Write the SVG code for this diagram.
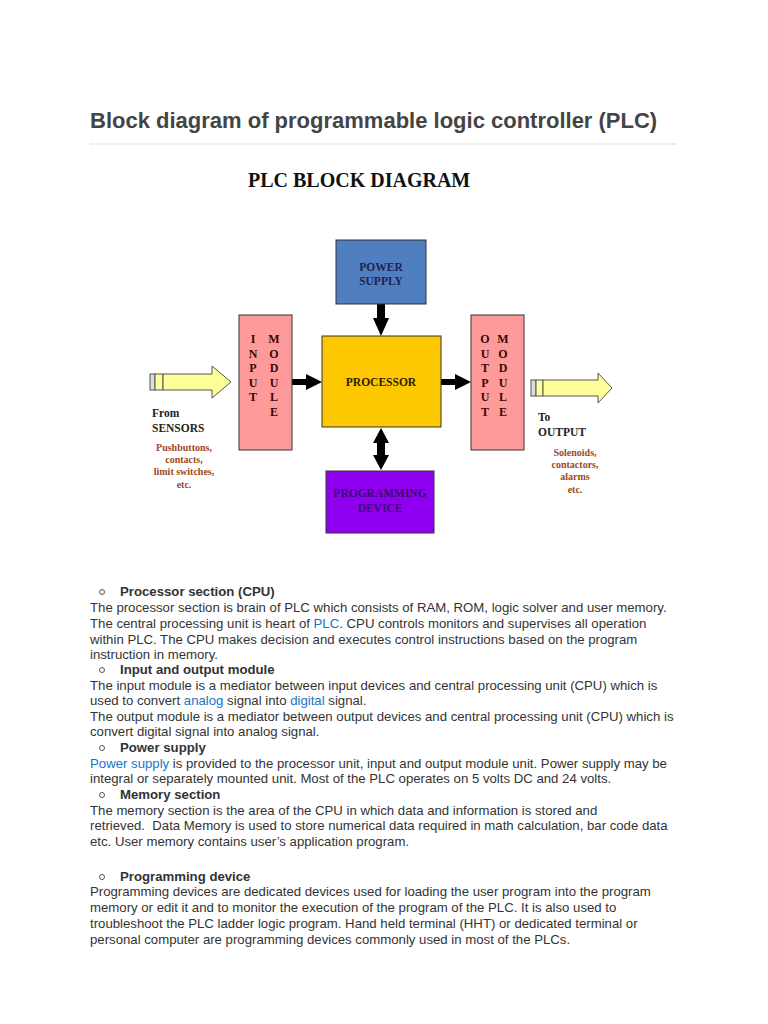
<svg xmlns="http://www.w3.org/2000/svg" width="768" height="1024" viewBox="0 0 768 1024">
<style>
.title{font-family:"Liberation Sans",Arial,sans-serif;font-weight:bold;font-size:22px;fill:#444}
.dtitle{font-family:"Liberation Serif","Times New Roman",serif;font-weight:bold;font-size:20px;fill:#111}
.lbl{font-family:"Liberation Serif","Times New Roman",serif;font-weight:bold;font-size:11.5px;text-anchor:middle}
.mod{font-family:"Liberation Serif","Times New Roman",serif;font-weight:bold;font-size:12px;fill:#3a0808;text-anchor:middle}
.side{font-family:"Liberation Serif","Times New Roman",serif;font-weight:bold;font-size:11.5px;fill:#222}
.ex{font-family:"Liberation Serif","Times New Roman",serif;font-weight:bold;font-size:10px;fill:#9b4a1e;text-anchor:middle}
.box{stroke:#333;stroke-width:1}
.body{font-family:"Liberation Sans",Arial,sans-serif;font-size:13.2px;fill:#333}
.h{font-family:"Liberation Sans",Arial,sans-serif;font-size:13.2px;font-weight:bold;fill:#333}
.lnk{fill:#1a73c8}
.bul{fill:none;stroke:#555;stroke-width:1}
</style>
<rect width="768" height="1024" fill="#fff"/>
<text class="title" x="90" y="128">Block diagram of programmable logic controller (PLC)</text>
<line x1="90" y1="144" x2="677" y2="144" stroke="#bbb" stroke-width="1" stroke-dasharray="1,1"/>
<text class="dtitle" x="248" y="187">PLC BLOCK DIAGRAM</text>

<g id="connectors">
<polygon fill="#000" points="377,304 385,304 385,318 389,318 381,336 373,318 377,318"/>
<polygon fill="#000" points="292,379 306,379 306,374 322,382 306,390 306,385 292,385"/>
<polygon fill="#000" points="441,379 455,379 455,374 471,382 455,390 455,385 441,385"/>
<polygon fill="#000" points="381,428 389,443 385,443 385,455 389,455 381,470 373,455 377,455 377,443 373,443"/>
</g>

<g id="power-supply">
<rect class="box" x="336" y="240" width="90" height="64" fill="#4f7fc0"/>
<text class="lbl" x="381" y="271" fill="#1b2550">POWER</text>
<text class="lbl" x="381" y="285" fill="#1b2550">SUPPLY</text>
</g>

<g id="processor">
<rect class="box" x="322" y="336" width="119" height="91" fill="#fdc800"/>
<text class="lbl" x="381" y="386" fill="#2a2000" font-size="12">PROCESSOR</text>
</g>

<g id="input-module">
<rect class="box" x="239" y="315" width="53" height="135" fill="#ff9a9a"/>
<text class="mod" x="253" y="343">I</text>
<text class="mod" x="253" y="357.5">N</text>
<text class="mod" x="253" y="372">P</text>
<text class="mod" x="253" y="386.5">U</text>
<text class="mod" x="253" y="401">T</text>
<text class="mod" x="274" y="343">M</text>
<text class="mod" x="274" y="357.5">O</text>
<text class="mod" x="274" y="372">D</text>
<text class="mod" x="274" y="386.5">U</text>
<text class="mod" x="274" y="401">L</text>
<text class="mod" x="274" y="415.5">E</text>
</g>

<g id="output-module">
<rect class="box" x="471" y="315" width="53" height="135" fill="#ff9a9a"/>
<text class="mod" x="485" y="343">O</text>
<text class="mod" x="485" y="357.5">U</text>
<text class="mod" x="485" y="372">T</text>
<text class="mod" x="485" y="386.5">P</text>
<text class="mod" x="485" y="401">U</text>
<text class="mod" x="485" y="415.5">T</text>
<text class="mod" x="503" y="343">M</text>
<text class="mod" x="503" y="357.5">O</text>
<text class="mod" x="503" y="372">D</text>
<text class="mod" x="503" y="386.5">U</text>
<text class="mod" x="503" y="401">L</text>
<text class="mod" x="503" y="415.5">E</text>
</g>

<g id="programming-device">
<rect class="box" x="326" y="471" width="108" height="62" fill="#9000f0"/>
<text class="lbl" x="380" y="497" fill="#3a0a70">PROGRAMMING</text>
<text class="lbl" x="380" y="512" fill="#3a0a70">DEVICE</text>
</g>

<g id="sensors-input">
<rect x="150" y="374" width="5" height="16" fill="#ddd" stroke="#555" stroke-width="1"/>
<rect x="155" y="374" width="8" height="16" fill="#ffff99" stroke="#555" stroke-width="1"/>
<polygon points="163,374 212,374 212,366 231,382 212,398 212,390 163,390" fill="#ffff99" stroke="#555" stroke-width="1"/>
<text class="side" x="152" y="417">From</text>
<text class="side" x="152" y="432">SENSORS</text>
<text class="ex" x="184" y="451">Pushbuttons,</text>
<text class="ex" x="184" y="463">contacts,</text>
<text class="ex" x="184" y="475">limit switches,</text>
<text class="ex" x="184" y="488">etc.</text>
</g>

<g id="output-devices">
<rect x="531" y="380" width="5" height="16" fill="#ddd" stroke="#555" stroke-width="1"/>
<rect x="536" y="380" width="7" height="16" fill="#ffff99" stroke="#555" stroke-width="1"/>
<polygon points="543,380 598,380 598,373 612,388 598,403 598,396 543,396" fill="#ffff99" stroke="#555" stroke-width="1"/>
<text class="side" x="538" y="421">To</text>
<text class="side" x="538" y="436">OUTPUT</text>
<text class="ex" x="575" y="456">Solenoids,</text>
<text class="ex" x="575" y="468">contactors,</text>
<text class="ex" x="575" y="480">alarms</text>
<text class="ex" x="575" y="493">etc.</text>
</g>

<g id="text-section">
<circle class="bul" cx="102" cy="592" r="2.5"/>
<text class="h" x="120" y="596">Processor section (CPU)</text>
<text class="body" x="90" y="612">The processor section is brain of PLC which consists of RAM, ROM, logic solver and user memory.</text>
<text class="body" x="90" y="628">The central processing unit is heart of <tspan class="lnk">PLC</tspan>. CPU controls monitors and supervises all operation</text>
<text class="body" x="90" y="644">within PLC. The CPU makes decision and executes control instructions based on the program</text>
<text class="body" x="90" y="659">instruction in memory.</text>
<circle class="bul" cx="102" cy="670" r="2.5"/>
<text class="h" x="120" y="674">Input and output module</text>
<text class="body" x="90" y="690">The input module is a mediator between input devices and central processing unit (CPU) which is</text>
<text class="body" x="90" y="705">used to convert <tspan class="lnk">analog</tspan> signal into <tspan class="lnk">digital</tspan> signal.</text>
<text class="body" x="90" y="721">The output module is a mediator between output devices and central processing unit (CPU) which is</text>
<text class="body" x="90" y="736">convert digital signal into analog signal.</text>
<circle class="bul" cx="102" cy="748" r="2.5"/>
<text class="h" x="120" y="752">Power supply</text>
<text class="body" x="90" y="768"><tspan class="lnk">Power supply</tspan> is provided to the processor unit, input and output module unit. Power supply may be</text>
<text class="body" x="90" y="783">integral or separately mounted unit. Most of the PLC operates on 5 volts DC and 24 volts.</text>
<circle class="bul" cx="102" cy="795" r="2.5"/>
<text class="h" x="120" y="799">Memory section</text>
<text class="body" x="90" y="815">The memory section is the area of the CPU in which data and information is stored and</text>
<text class="body" x="90" y="830" xml:space="preserve">retrieved.  Data Memory is used to store numerical data required in math calculation, bar code data</text>
<text class="body" x="90" y="846">etc. User memory contains user’s application program.</text>
<circle class="bul" cx="102" cy="877" r="2.5"/>
<text class="h" x="120" y="881">Programming device</text>
<text class="body" x="90" y="896">Programming devices are dedicated devices used for loading the user program into the program</text>
<text class="body" x="90" y="912">memory or edit it and to monitor the execution of the program of the PLC. It is also used to</text>
<text class="body" x="90" y="928">troubleshoot the PLC ladder logic program. Hand held terminal (HHT) or dedicated terminal or</text>
<text class="body" x="90" y="944">personal computer are programming devices commonly used in most of the PLCs.</text>
</g>
</svg>
